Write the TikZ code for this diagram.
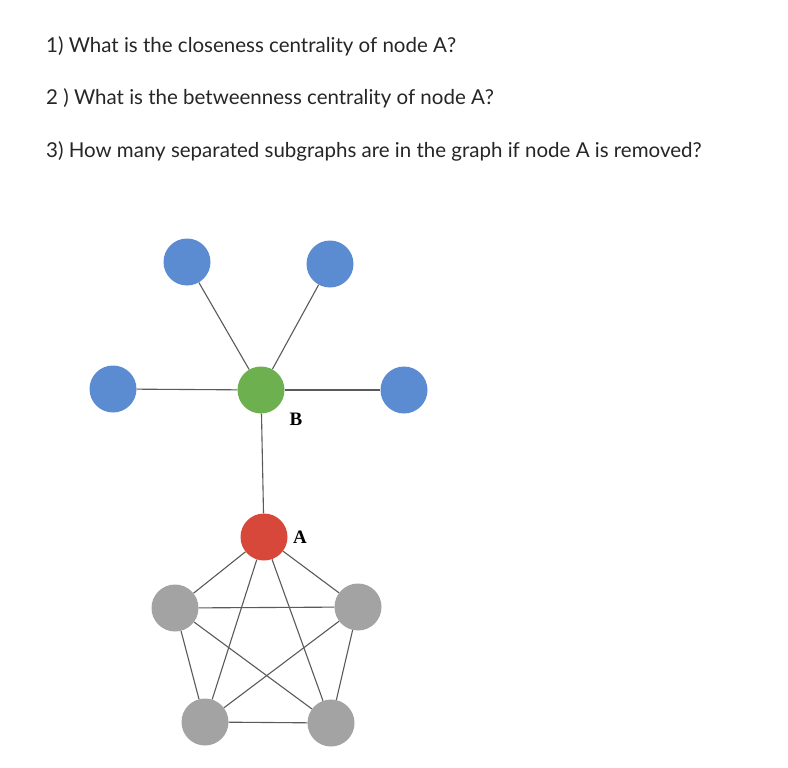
\documentclass[tikz,border=0pt]{standalone}
\usepackage{fontspec}
\setmainfont{Lato}
\newfontfamily\serifb{Liberation Serif}
\definecolor{nblue}{HTML}{5B8BD0}
\definecolor{ngreen}{HTML}{6DB04F}
\definecolor{nred}{HTML}{D8483A}
\definecolor{ngray}{HTML}{A3A3A3}
\definecolor{edgec}{HTML}{5A5A5A}
\begin{document}
\begin{tikzpicture}[x=1pt,y=-1pt,
  vert/.style={circle,minimum size=47pt,inner sep=0pt,draw=none},
  edge/.style={draw=edgec,line width=1.1pt},
  qtext/.style={anchor=west,font=\fontsize{20.5}{24}\selectfont,text=black!85,inner sep=0pt},
  lab/.style={font=\serifb\bfseries\fontsize{19}{22}\selectfont,inner sep=0pt}]
\useasboundingbox[fill=white] (0,0) rectangle (788,768);
\node[qtext] (q1) at (46,46) {1) What is the closeness centrality of node A?};
\node[qtext] (q2) at (46,98) {2 ) What is the betweenness centrality of node A?};
\node[qtext] (q3) at (46,151) {3) How many separated subgraphs are in the graph if node A is removed?};
\node[vert,fill=nblue] (b1) at (187,262) {};
\node[vert,fill=nblue] (b2) at (330,264) {};
\node[vert,fill=nblue] (b3) at (113,389) {};
\node[vert,fill=nblue] (b4) at (404,390) {};
\node[vert,fill=ngreen] (B) at (261,390) {};
\node[vert,fill=nred] (A) at (264,537) {};
\node[vert,fill=ngray] (g1) at (175,608) {};
\node[vert,fill=ngray] (g2) at (358,607) {};
\node[vert,fill=ngray] (g3) at (205,722) {};
\node[vert,fill=ngray] (g4) at (331,723) {};
\node[lab] (lB) at (296,419) {B};
\node[lab] (lA) at (300,537) {A};
\draw[edge] (B) -- (b1); \draw[edge] (B) -- (b2);
\draw[edge] (B) -- (b3); \draw[edge] (B) -- (b4);
\draw[edge] (B) -- (A);
\foreach \u/\v in {A/g1,A/g2,A/g3,A/g4,g1/g2,g1/g3,g1/g4,g2/g3,g2/g4,g3/g4}
  \draw[edge] (\u) -- (\v);
\end{tikzpicture}
\end{document}
